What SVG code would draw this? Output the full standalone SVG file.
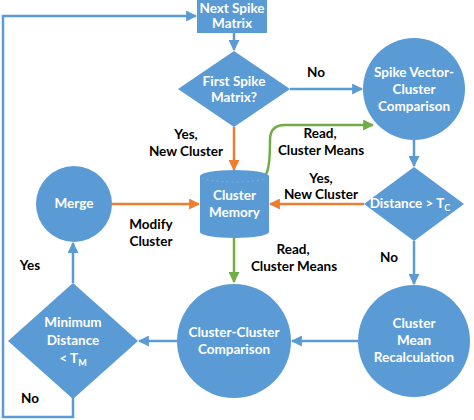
<svg xmlns="http://www.w3.org/2000/svg" width="474" height="420" viewBox="0 0 474 420">
<style>
.n{fill:#5B9BD5}
.t{font-family:Lato,"Open Sans",sans-serif;font-weight:bold;font-size:13.5px;fill:#fff;text-anchor:middle}
.l{font-family:Lato,"Open Sans",sans-serif;font-weight:bold;font-size:13.5px;fill:#000;text-anchor:middle}
.b{stroke:#5B9BD5;stroke-width:2.5;fill:none}
.o{stroke:#ED7D31;stroke-width:2.5;fill:none}
.g{stroke:#70AD47;stroke-width:2.5;fill:none}
</style>
<defs>
<marker id="ab" viewBox="0 0 10 10" refX="9" refY="5" markerWidth="4.4" markerHeight="4.4" orient="auto" markerUnits="strokeWidth"><path d="M0,0L10,5L0,10z" fill="#5B9BD5"/></marker>
<marker id="ao" viewBox="0 0 10 10" refX="9" refY="5" markerWidth="4.4" markerHeight="4.4" orient="auto" markerUnits="strokeWidth"><path d="M0,0L10,5L0,10z" fill="#ED7D31"/></marker>
<marker id="ag" viewBox="0 0 10 10" refX="9" refY="5" markerWidth="4.4" markerHeight="4.4" orient="auto" markerUnits="strokeWidth"><path d="M0,0L10,5L0,10z" fill="#70AD47"/></marker>
</defs>
<g id="connectors">
<path class="b" d="M234,33L234,50" marker-end="url(#ab)"/>
<path class="b" d="M290,89L362,89" marker-end="url(#ab)"/>
<path class="o" d="M234,127L234,170" marker-end="url(#ao)"/>
<path class="g" d="M266,174C270,168 270,150 270,140Q270,125 285,125L373,125" marker-end="url(#ag)"/>
<path class="b" d="M414,140L414,166" marker-end="url(#ab)"/>
<path class="o" d="M364,204L270,204" marker-end="url(#ao)"/>
<path class="b" d="M414,241L414,284" marker-end="url(#ab)"/>
<path class="g" d="M234,238L234,282" marker-end="url(#ag)"/>
<path class="o" d="M112,204L199,204" marker-end="url(#ao)"/>
<path class="b" d="M358,341L292,341" marker-end="url(#ab)"/>
<path class="b" d="M177,341L139,341" marker-end="url(#ab)"/>
<path class="b" d="M73,283L73,243" marker-end="url(#ab)"/>
<path class="b" d="M73,398L73,417L3,417L3,16L196,16" marker-end="url(#ab)"/>
</g>
<g id="next-spike-matrix">
<rect class="n" x="197" y="0" width="70" height="33"/>
<text class="t" x="232" y="13">Next Spike</text>
<text class="t" x="232" y="28">Matrix</text>
</g>
<g id="first-spike-matrix">
<polygon class="n" points="234,51 290,89 234,127 178,89"/>
<text class="t" x="234" y="86">First Spike</text>
<text class="t" x="234" y="102">Matrix?</text>
</g>
<g id="spike-vector-cluster">
<circle class="n" cx="414" cy="89" r="51"/>
<text class="t" x="414" y="77">Spike Vector-</text>
<text class="t" x="414" y="94">Cluster</text>
<text class="t" x="414" y="111">Comparison</text>
</g>
<g id="cluster-memory">
<path class="n" d="M200,176A34.5,6 0 0 1 269,176L269,232A34.5,6 0 0 1 200,232Z"/>
<path d="M202,178A34.5,6 0 0 0 267,178" fill="none" stroke="#7fb2e0" stroke-width="1" stroke-dasharray="2,3"/>
<text class="t" x="234.5" y="200">Cluster</text>
<text class="t" x="234.5" y="217">Memory</text>
</g>
<g id="distance-tc">
<polygon class="n" points="414,167 464,204 414,241 364,204"/>
<text class="t" x="410" y="208">Distance &gt; T<tspan font-size="9" dy="3">C</tspan></text>
</g>
<g id="merge">
<circle class="n" cx="74" cy="204" r="38"/>
<text class="t" x="74" y="208">Merge</text>
</g>
<g id="cluster-cluster">
<circle class="n" cx="234" cy="341" r="57"/>
<text class="t" x="234" y="337">Cluster-Cluster</text>
<text class="t" x="234" y="354">Comparison</text>
</g>
<g id="cluster-mean">
<circle class="n" cx="414" cy="341" r="56"/>
<text class="t" x="414" y="328">Cluster</text>
<text class="t" x="414" y="345">Mean</text>
<text class="t" x="414" y="362">Recalculation</text>
</g>
<g id="minimum-distance">
<polygon class="n" points="73,283 138,341 73,399 8,341"/>
<text class="t" x="73" y="327">Minimum</text>
<text class="t" x="73" y="345">Distance</text>
<text class="t" x="73" y="363">&lt; T<tspan font-size="9" dy="3">M</tspan></text>
</g>
<g id="labels">
<text class="l" x="316" y="77">No</text>
<text class="l" x="186" y="139">Yes,</text>
<text class="l" x="186" y="156">New Cluster</text>
<text class="l" x="320" y="138">Read,</text>
<text class="l" x="321" y="155">Cluster Means</text>
<text class="l" x="321" y="183">Yes,</text>
<text class="l" x="321" y="199">New Cluster</text>
<text class="l" x="151" y="229">Modify</text>
<text class="l" x="151" y="246">Cluster</text>
<text class="l" x="293" y="254">Read,</text>
<text class="l" x="294" y="271">Cluster Means</text>
<text class="l" x="389" y="262">No</text>
<text class="l" x="30" y="270">Yes</text>
<text class="l" x="30" y="403">No</text>
</g>
</svg>
